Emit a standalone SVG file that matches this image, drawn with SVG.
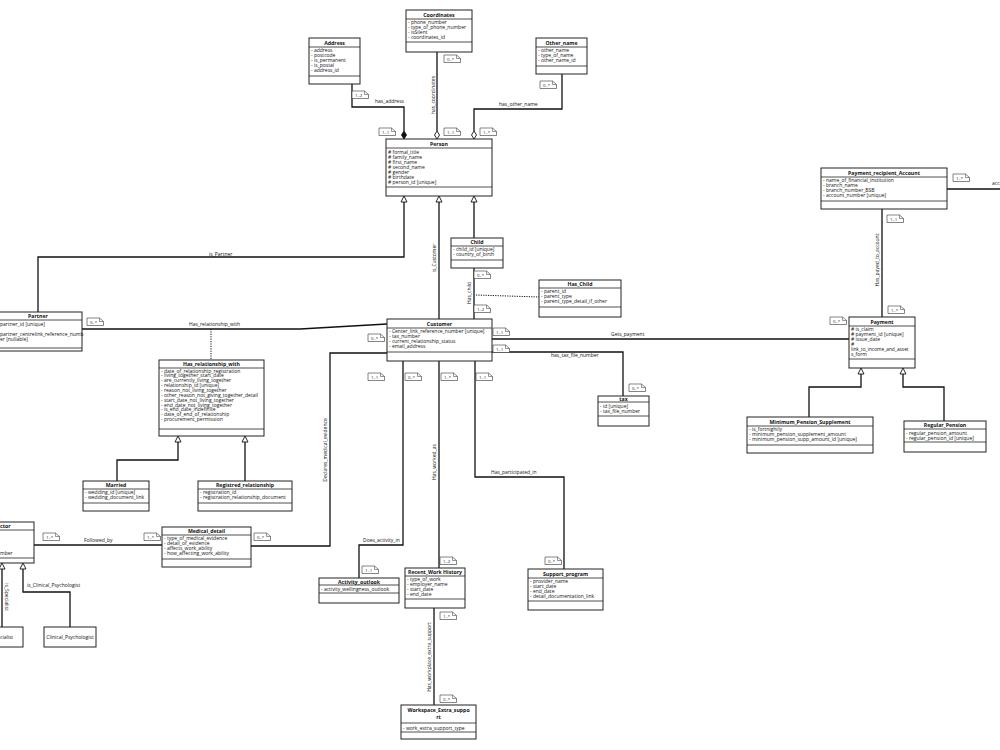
<svg xmlns="http://www.w3.org/2000/svg" xmlns:xlink="http://www.w3.org/1999/xlink" width="1000" height="750" viewBox="0 0 1000 750">
<style>
text{font-family:"Open Sans","DejaVu Sans",sans-serif;font-size:5px;fill:#111}
.t{font-weight:bold;text-anchor:middle;font-size:5.2px}
.c{text-anchor:middle}
.box{fill:#fff;stroke:#222;stroke-width:1}
.sep{stroke:#222;stroke-width:0.8}
.ln{fill:none;stroke:#111;stroke-width:1.3}
.dot{fill:none;stroke:#111;stroke-width:1;stroke-dasharray:1.2,1.2}
.nt{font-size:4.3px}
.lb{font-size:5px}
</style>
<defs>
<g id="note"><path d="M0,0H12.5L16.5,3.5V7.5H0Z" fill="#fff" stroke="#333" stroke-width="0.6"/><path d="M12.5,0V3.5H16.5" fill="none" stroke="#333" stroke-width="0.5"/></g>
<path id="tri" d="M0,0L3,6H-3Z" fill="#fff" stroke="#111" stroke-width="0.9"/>
<path id="dia" d="M0,0L2.5,4L0,8L-2.5,4Z" fill="#fff" stroke="#111" stroke-width="0.9"/>
</defs>
<rect width="1000" height="750" fill="#fff"/>

<g id="connectors">
<path class="ln" d="M352,84V107H404V131"/>
<path class="ln" d="M437,52V131"/>
<path class="ln" d="M562,74V109H474V131"/>
<path class="ln" d="M404,202V257H38V312"/>
<path class="ln" d="M439,202V319"/>
<path class="ln" d="M474,202V238"/>
<path class="ln" d="M474,268V319"/>
<path class="dot" d="M476,295L539,297"/>
<path class="ln" d="M82,329H300L387,324"/>
<path class="dot" d="M211,329V360"/>
<path class="ln" d="M178,442V460H117V481"/>
<path class="ln" d="M245,442V481"/>
<path class="ln" d="M34,545H162"/>
<path class="ln" d="M2,569V627"/>
<path class="ln" d="M23,569V592H70V627"/>
<path class="ln" d="M251,546H330V353H387"/>
<path class="ln" d="M403,361V545H359V578"/>
<path class="ln" d="M439,361V568"/>
<path class="ln" d="M475,361V477H564V569"/>
<path class="ln" d="M434,608V705"/>
<path class="ln" d="M492,339H849"/>
<path class="ln" d="M492,352H623V396"/>
<path class="ln" d="M882,209V317"/>
<path class="ln" d="M947,189H1000"/>
<path class="ln" d="M861,374V387H809V417"/>
<path class="ln" d="M903,374V387H944V421"/>
<path d="M404,131L406.5,135L404,139L401.5,135Z" fill="#111" stroke="#111" stroke-width="0.9"/>
<use xlink:href="#dia" x="437" y="131"/>
<use xlink:href="#dia" x="474" y="131"/>
<use xlink:href="#tri" x="404" y="196"/>
<use xlink:href="#tri" x="439" y="196"/>
<use xlink:href="#tri" x="474" y="196"/>
<use xlink:href="#tri" x="178" y="436"/>
<use xlink:href="#tri" x="245" y="436"/>
<use xlink:href="#tri" x="2" y="563"/>
<use xlink:href="#tri" x="23" y="563"/>
<use xlink:href="#tri" x="861" y="368"/>
<use xlink:href="#tri" x="903" y="368"/>
<text class="lb" x="375" y="103">has_address</text>
<text class="lb c" transform="translate(435,95) rotate(-90)">has_coordinates</text>
<text class="lb" x="499" y="106">has_other_name</text>
<text class="lb" x="209" y="256">is_Partner</text>
<text class="lb c" transform="translate(436,258) rotate(-90)">is_Customer</text>
<text class="lb c" transform="translate(471,293) rotate(-90)">Has_child</text>
<text class="lb" x="189" y="326">Has_relationship_with</text>
<text class="lb" x="611" y="336">Gets_payment</text>
<text class="lb" x="551" y="357">has_tax_file_number</text>
<text class="lb c" transform="translate(327,450) rotate(-90)">Declares_medical_evidence</text>
<text class="lb c" transform="translate(436,462) rotate(-90)">Has_worked_as</text>
<text class="lb" x="491" y="474">Has_participated_in</text>
<text class="lb" x="363" y="542">Does_activity_in</text>
<text class="lb" x="84" y="542">Followed_by</text>
<text class="lb" x="27" y="587">is_Clinical_Psychologist</text>
<text class="lb c" transform="translate(5,597) rotate(90)">is_Specialist</text>
<text class="lb c" transform="translate(431,657) rotate(-90)">Has_workplace_extra_support</text>
<text class="lb c" transform="translate(879,260) rotate(-90)">Has_payed_to_account</text>
<text class="lb" x="992" y="185">acc</text>
<g class="notes">
<use xlink:href="#note" x="352" y="91"/><text class="nt" x="355" y="97">1..2</text>
<use xlink:href="#note" x="444" y="55"/><text class="nt" x="447" y="61">0..*</text>
<use xlink:href="#note" x="540" y="81"/><text class="nt" x="543" y="87">0..*</text>
<use xlink:href="#note" x="379" y="128"/><text class="nt" x="382" y="134">1..1</text>
<use xlink:href="#note" x="444" y="128"/><text class="nt" x="447" y="134">1..1</text>
<use xlink:href="#note" x="480" y="128"/><text class="nt" x="483" y="134">1..*</text>
<use xlink:href="#note" x="474" y="271"/><text class="nt" x="477" y="277">0..*</text>
<use xlink:href="#note" x="474" y="305"/><text class="nt" x="477" y="311">1..2</text>
<use xlink:href="#note" x="87" y="318"/><text class="nt" x="90" y="324">0..*</text>
<use xlink:href="#note" x="368" y="334"/><text class="nt" x="371" y="340">0..*</text>
<use xlink:href="#note" x="493" y="328"/><text class="nt" x="496" y="334">1..1</text>
<use xlink:href="#note" x="493" y="345"/><text class="nt" x="496" y="351">1..1</text>
<use xlink:href="#note" x="368" y="373"/><text class="nt" x="371" y="379">1..1</text>
<use xlink:href="#note" x="405" y="373"/><text class="nt" x="408" y="379">0..*</text>
<use xlink:href="#note" x="441" y="373"/><text class="nt" x="444" y="379">1..*</text>
<use xlink:href="#note" x="476" y="373"/><text class="nt" x="479" y="379">1..1</text>
<use xlink:href="#note" x="43" y="533"/><text class="nt" x="46" y="539">1..*</text>
<use xlink:href="#note" x="144" y="533"/><text class="nt" x="147" y="539">1..*</text>
<use xlink:href="#note" x="254" y="533"/><text class="nt" x="257" y="539">0..*</text>
<use xlink:href="#note" x="362" y="566"/><text class="nt" x="365" y="572">1..1</text>
<use xlink:href="#note" x="440" y="557"/><text class="nt" x="443" y="563">1..2</text>
<use xlink:href="#note" x="545" y="557"/><text class="nt" x="548" y="563">0..*</text>
<use xlink:href="#note" x="440" y="612"/><text class="nt" x="443" y="618">1..*</text>
<use xlink:href="#note" x="440" y="695"/><text class="nt" x="443" y="701">0..*</text>
<use xlink:href="#note" x="629" y="384"/><text class="nt" x="632" y="390">0..*</text>
<use xlink:href="#note" x="830" y="317"/><text class="nt" x="833" y="323">0..*</text>
<use xlink:href="#note" x="888" y="306"/><text class="nt" x="891" y="312">1..*</text>
<use xlink:href="#note" x="887" y="215"/><text class="nt" x="890" y="221">1..1</text>
<use xlink:href="#note" x="953" y="174"/><text class="nt" x="956" y="180">1..*</text>
</g>
</g>

<g id="Coordinates">
<rect class="box" x="406" y="10" width="66" height="42"/>
<path class="sep" d="M406,19H472M406,42H472"/>
<text class="t" x="439" y="17">Coordinates</text>
<text x="408" y="24">- phone_number</text>
<text x="408" y="29">- type_of_phone_number</text>
<text x="408" y="34">- isSilent</text>
<text x="408" y="39">- coordinates_id</text>
</g>

<g id="Address">
<rect class="box" x="309" y="38" width="51" height="46"/>
<path class="sep" d="M309,47H360M309,76H360"/>
<text class="t" x="334.5" y="45">Address</text>
<text x="311" y="52">- address</text>
<text x="311" y="57">- postcode</text>
<text x="311" y="62">- is_permanent</text>
<text x="311" y="67">- is_postal</text>
<text x="311" y="72">- address_id</text>
</g>

<g id="Other_name">
<rect class="box" x="536" y="38" width="51" height="36"/>
<path class="sep" d="M536,47H587M536,66H587"/>
<text class="t" x="561.5" y="45">Other_name</text>
<text x="538" y="52">- other_name</text>
<text x="538" y="57">- type_of_name</text>
<text x="538" y="62">- other_name_id</text>
</g>

<g id="Person">
<rect class="box" x="386" y="139" width="106" height="57"/>
<path class="sep" d="M386,148H492M386,187H492"/>
<text class="t" x="439" y="146">Person</text>
<text x="388" y="153.5"># formal_title</text>
<text x="388" y="158.5"># family_name</text>
<text x="388" y="163.5"># first_name</text>
<text x="388" y="168.5"># second_name</text>
<text x="388" y="173.5"># gender</text>
<text x="388" y="178.5"># birthdate</text>
<text x="388" y="183.5"># person_id [unique]</text>
</g>

<g id="Child">
<rect class="box" x="451" y="238" width="52" height="30"/>
<path class="sep" d="M451,246H503M451,260H503"/>
<text class="t" x="477" y="244">Child</text>
<text x="453" y="251">- child_id [unique]</text>
<text x="453" y="256">- country_of_birth</text>
</g>

<g id="Has_Child">
<rect class="box" x="539" y="280" width="82" height="37"/>
<path class="sep" d="M539,288H621M539,307H621"/>
<text class="t" x="580" y="286">Has_Child</text>
<text x="541" y="293">- parent_id</text>
<text x="541" y="298">- parent_type</text>
<text x="541" y="303">- parent_type_detail_if_other</text>
</g>

<g id="Customer">
<rect class="box" x="387" y="319" width="105" height="42"/>
<path class="sep" d="M387,328H492M387,352H492"/>
<text class="t" x="439.5" y="326">Customer</text>
<text x="389" y="333">- Center_link_reference_number [unique]</text>
<text x="389" y="338">- tax_number</text>
<text x="389" y="343">- current_relationship_status</text>
<text x="389" y="348">- email_address</text>
</g>

<g id="Partner">
<rect class="box" x="-6" y="312" width="88" height="39"/>
<path class="sep" d="M-6,320H82M-6,348H82"/>
<text class="t" x="38" y="318">Partner</text>
<text x="0" y="326">partner_id [unique]</text>
<text x="0" y="336">partner_centrelink_reference_numb</text>
<text x="0" y="341">er [nullable]</text>
</g>

<g id="Has_relationship_with">
<rect class="box" x="159" y="360" width="105" height="76"/>
<path class="sep" d="M159,368H264M159,429H264"/>
<text class="t" x="211.5" y="366">Has_relationship_with</text>
<text x="161" y="372.5">- date_of_relationship_registration</text>
<text x="161" y="377.4">- living_together_start_date</text>
<text x="161" y="382.2">- are_currently_living_together</text>
<text x="161" y="387.1">- relationship_id [unique]</text>
<text x="161" y="391.9">- reason_not_living_together</text>
<text x="161" y="396.8">- other_reason_not_giving_together_detail</text>
<text x="161" y="401.6">- start_date_not_living_together</text>
<text x="161" y="406.5">- end_date_not_living_together</text>
<text x="161" y="411.3">- is_end_date_indefinite</text>
<text x="161" y="416.2">- date_of_end_of_relationship</text>
<text x="161" y="421">- procurement_permission</text>
</g>

<g id="Married">
<rect class="box" x="83" y="481" width="66" height="30"/>
<path class="sep" d="M83,489H149M83,503H149"/>
<text class="t" x="116" y="487">Married</text>
<text x="85" y="494">- wedding_id [unique]</text>
<text x="85" y="499">- wedding_document_link</text>
</g>

<g id="Registred_relationship">
<rect class="box" x="198" y="481" width="94" height="30"/>
<path class="sep" d="M198,489H292M198,503H292"/>
<text class="t" x="245" y="487">Registred_relationship</text>
<text x="200" y="494">- registration_id</text>
<text x="200" y="499">- registration_relationship_document</text>
</g>

<g id="Doctor">
<rect class="box" x="-32" y="522" width="66" height="41"/>
<path class="sep" d="M-32,530H34M-32,558H34"/>
<text x="0" y="528" style="font-weight:bold;font-size:5.2px">ctor</text>
<text x="0" y="555">mber</text>
</g>

<g id="Specialist">
<rect class="box" x="-30" y="627" width="53" height="20"/>
<text x="0" y="639">cialist</text>
</g>

<g id="Clinical_Psychologist">
<rect class="box" x="44" y="627" width="52" height="20"/>
<text class="c" x="70" y="639">Clinical_Psychologist</text>
</g>

<g id="Medical_detail">
<rect class="box" x="162" y="527" width="89" height="40"/>
<path class="sep" d="M162,535H251M162,559H251"/>
<text class="t" x="206.5" y="533">Medical_detail</text>
<text x="164" y="540">- type_of_medical_evidence</text>
<text x="164" y="545">- detail_of_evidence</text>
<text x="164" y="550">- affects_work_ability</text>
<text x="164" y="555">- how_affecting_work_ability</text>
</g>

<g id="Activity_outlook">
<rect class="box" x="319" y="578" width="80" height="25"/>
<path class="sep" d="M319,585H399M319,593H399"/>
<text class="t" x="359" y="583.5">Activity_outlook</text>
<text x="321" y="590.5">- activity_wellingness_outlook</text>
</g>

<g id="Recent_Work_History">
<rect class="box" x="405" y="568" width="60" height="40"/>
<path class="sep" d="M405,576H465M405,599H465"/>
<text class="t" x="435" y="574">Recent_Work History</text>
<text x="407" y="581">- type_of_work</text>
<text x="407" y="586">- employer_name</text>
<text x="407" y="591">- start_date</text>
<text x="407" y="596">- end_date</text>
</g>

<g id="Support_program">
<rect class="box" x="528" y="569" width="75" height="41"/>
<path class="sep" d="M528,578H603M528,601H603"/>
<text class="t" x="565.5" y="575.5">Support_program</text>
<text x="530" y="583">- provider_name</text>
<text x="530" y="588">- start_date</text>
<text x="530" y="593">- end_date</text>
<text x="530" y="598">- detail_documentation_link</text>
</g>

<g id="Workspace_Extra_support">
<rect class="box" x="401" y="705" width="75" height="34"/>
<path class="sep" d="M401,723H476M401,732H476"/>
<text class="t" x="438.5" y="711.5">Workspace_Extra_suppo</text>
<text class="t" x="438.5" y="718.5">rt</text>
<text x="403" y="729.5">- work_extra_support_type</text>
</g>

<g id="tax">
<rect class="box" x="598" y="396" width="51" height="30"/>
<path class="sep" d="M598,402H649M598,416H649"/>
<text class="t" x="623.5" y="400.5">tax</text>
<text x="600" y="407.5">- id [unique]</text>
<text x="600" y="412.5">- tax_file_number</text>
</g>

<g id="Payment">
<rect class="box" x="849" y="317" width="66" height="51"/>
<path class="sep" d="M849,326H915M849,359H915"/>
<text class="t" x="882" y="323.5">Payment</text>
<text x="851" y="331">#  is_claim</text>
<text x="851" y="336">#  payment_id [unique]</text>
<text x="851" y="341">#  issue_date</text>
<text x="851" y="346">#</text>
<text x="851" y="351" style="font-size:4.8px">link_to_income_and_asset</text>
<text x="851" y="356">s_form</text>
</g>

<g id="Payment_recipient_Account">
<rect class="box" x="821" y="168" width="126" height="41"/>
<path class="sep" d="M821,177H947M821,201H947"/>
<text class="t" x="884" y="174.5">Payment_recipient_Account</text>
<text x="823" y="182">- name_of_financial_institution</text>
<text x="823" y="187">- branch_name</text>
<text x="823" y="192">- branch_number_BSB</text>
<text x="823" y="197">- account_number [unique]</text>
</g>

<g id="Minimum_Pension_Supplement">
<rect class="box" x="747" y="417" width="126" height="36"/>
<path class="sep" d="M747,426H873M747,445H873"/>
<text class="t" x="810" y="423.5">Minimum_Pension_Supplement</text>
<text x="749" y="431">- is_fortnightly</text>
<text x="749" y="436">- minimum_pension_supplement_amount</text>
<text x="749" y="441">- minimum_pension_supp_amount_id [unique]</text>
</g>

<g id="Regular_Pension">
<rect class="box" x="904" y="421" width="82" height="31"/>
<path class="sep" d="M904,429H986M904,442H986"/>
<text class="t" x="945" y="427">Regular_Pension</text>
<text x="906" y="434.5">- regular_pension_amount</text>
<text x="906" y="439.5">- regular_pension_id [unique]</text>
</g>
</svg>
